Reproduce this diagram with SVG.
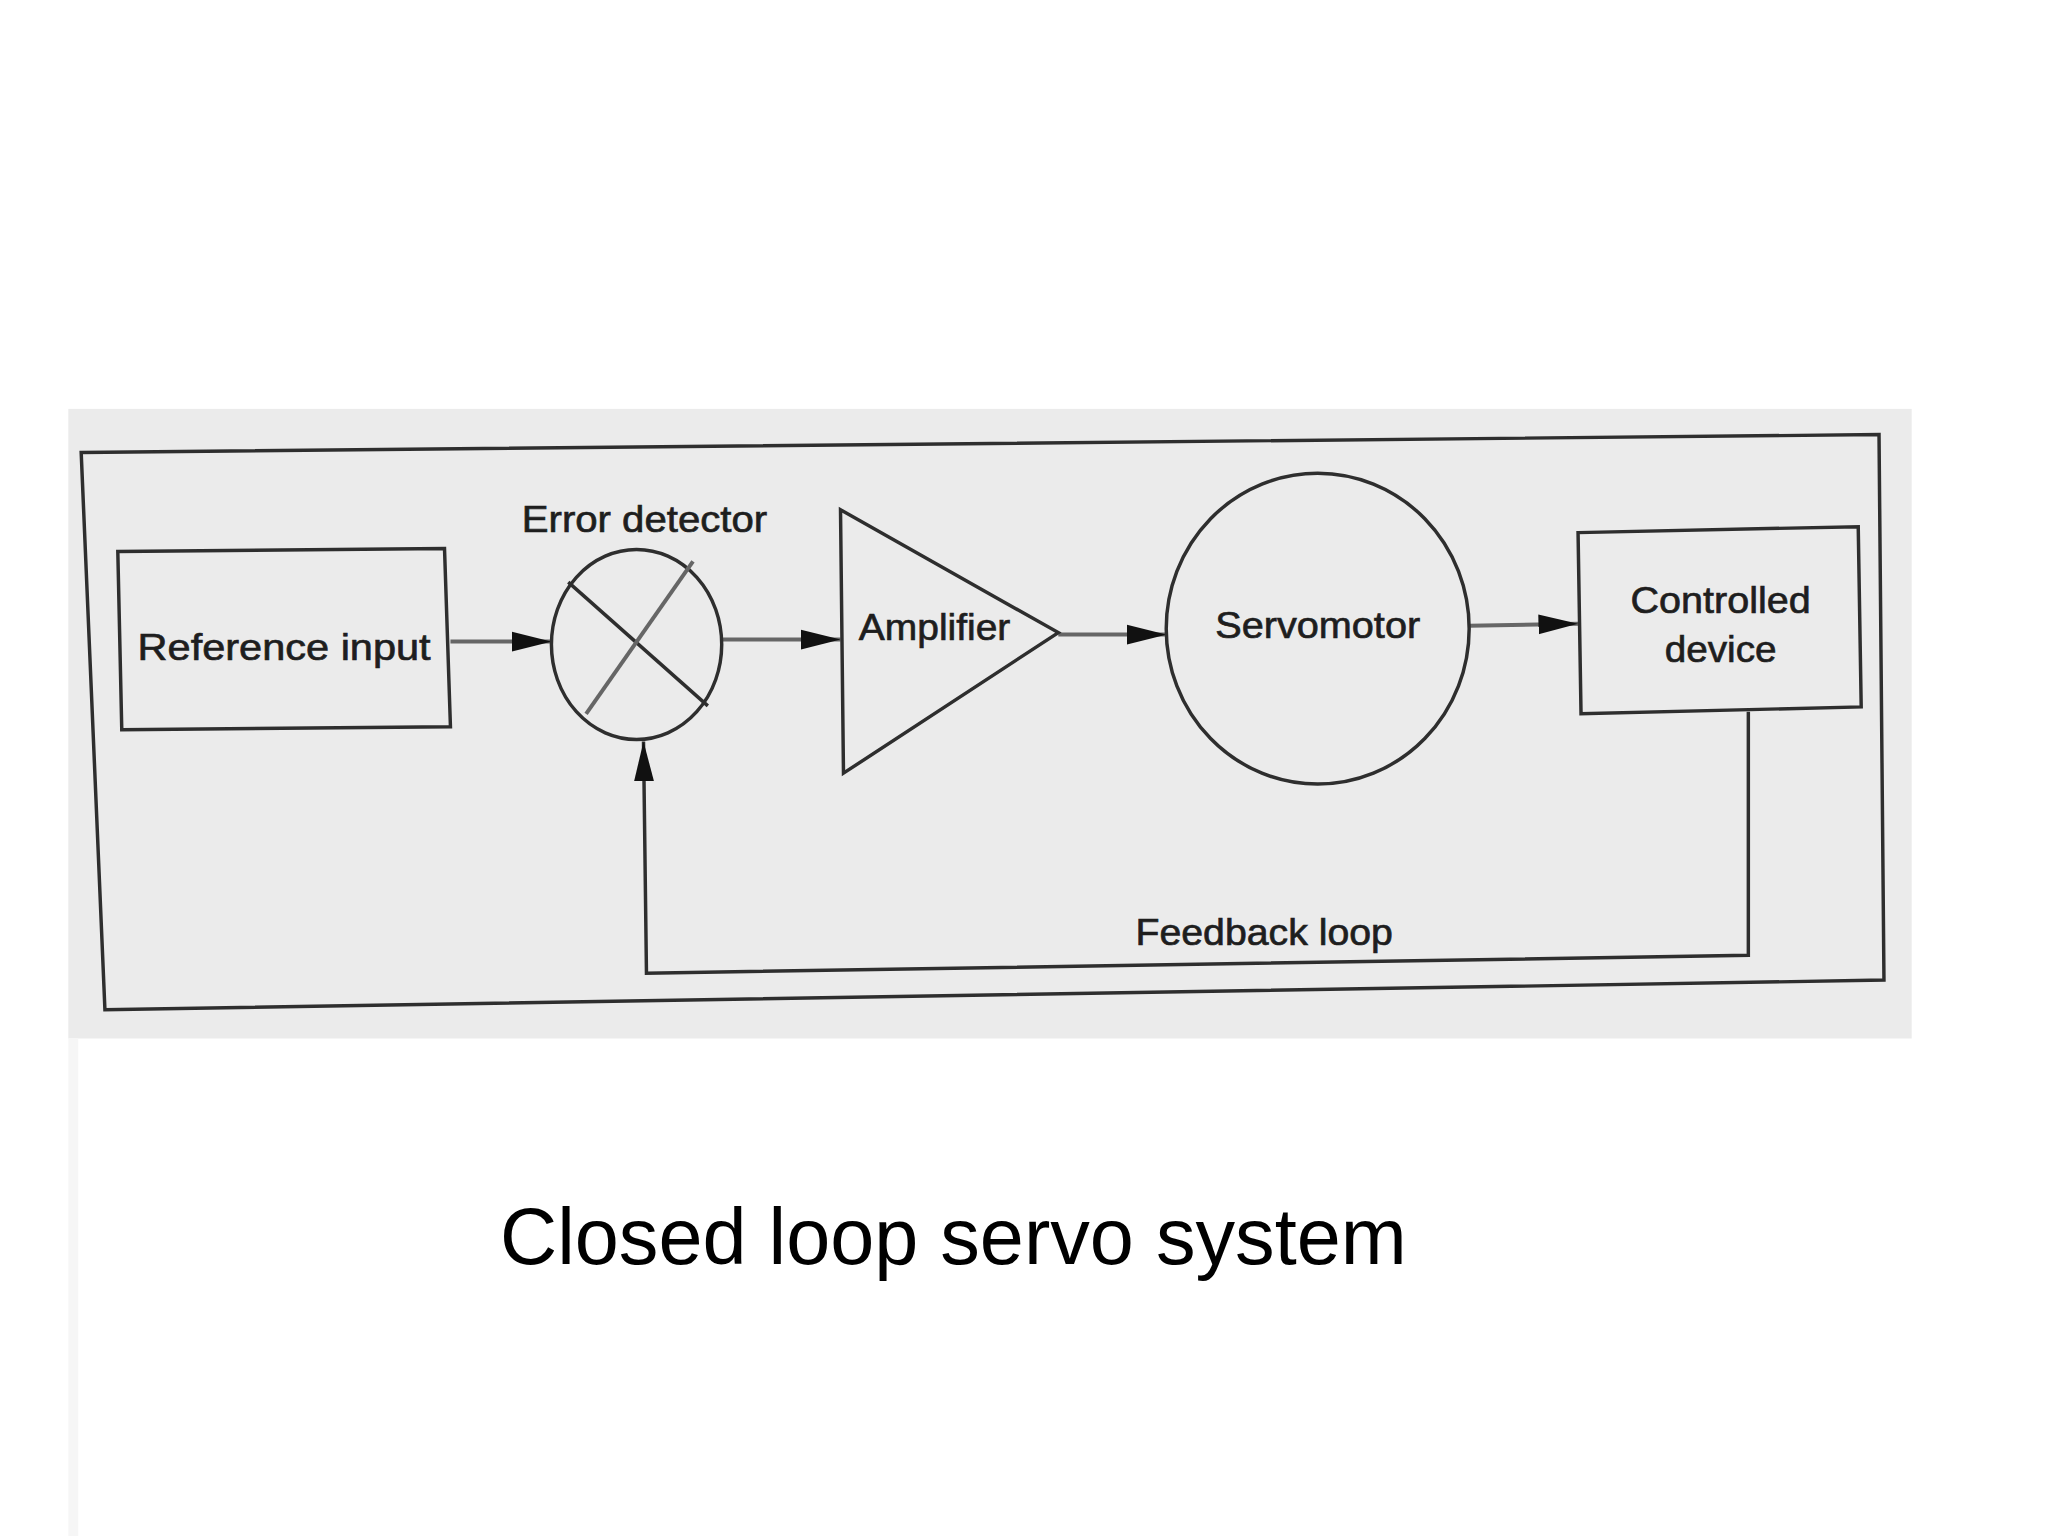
<svg xmlns="http://www.w3.org/2000/svg" width="2048" height="1536" viewBox="0 0 2048 1536">
<defs>
<style>
.ln{fill:none;stroke:#2e2e2e;stroke-width:3.5;stroke-linejoin:miter}
.gl{fill:none;stroke:#666;stroke-width:4}
.lb{font-family:"Liberation Sans",Arial,sans-serif;font-size:38px;fill:#1e1e1e;stroke:#1e1e1e;stroke-width:0.7;text-anchor:middle}
.ttl{font-family:"Liberation Sans",Arial,sans-serif;font-size:80px;fill:#000;text-anchor:middle}
</style>
<marker id="ahb" viewBox="0 0 40 24" refX="40" refY="12" markerWidth="40" markerHeight="24" markerUnits="userSpaceOnUse" orient="auto">
<path d="M0,2 L40,12 L0,22 Z" fill="#111"/>
</marker>
</defs>
<rect x="0" y="0" width="2048" height="1536" fill="#fff"/>
<g transform="scale(0.99)">
<rect x="69" y="413" width="1862" height="636" fill="#ebebeb"/>
<rect x="69" y="1049" width="10" height="505" fill="#f6f6f6"/>
<g id="frame">
<path class="ln" d="M82,457 L1898,439 L1903,990 L106,1020 Z"/>
</g>
<g id="connectors">
<line class="gl" x1="455" y1="648" x2="557" y2="648" marker-end="url(#ahb)"/>
<line class="gl" x1="729" y1="646" x2="849" y2="646" marker-end="url(#ahb)"/>
<line class="gl" x1="1069" y1="641" x2="1178" y2="641" marker-end="url(#ahb)"/>
<line class="gl" x1="1484" y1="632" x2="1594" y2="630" marker-end="url(#ahb)"/>
<polyline class="ln" points="1766,719 1766,965 653,983 650,749" marker-end="url(#ahb)"/>
</g>
<g id="reference-input">
<path class="ln" d="M119,557 L449,554 L455,734 L123,737 Z"/>
<text class="lb" x="287" y="667" textLength="296" lengthAdjust="spacingAndGlyphs">Reference input</text>
</g>
<g id="error-detector">
<ellipse class="ln" cx="643" cy="651" rx="86" ry="96"/>
<line class="ln" x1="574" y1="588" x2="715" y2="713"/>
<line class="gl" x1="700" y1="567" x2="592" y2="721"/>
<text class="lb" x="651" y="537" textLength="248" lengthAdjust="spacingAndGlyphs">Error detector</text>
</g>
<g id="amplifier">
<path class="ln" d="M849,515 L1069,639 L852,781 Z"/>
<text class="lb" x="944" y="646" textLength="153" lengthAdjust="spacingAndGlyphs">Amplifier</text>
</g>
<g id="servomotor">
<ellipse class="ln" cx="1331" cy="635" rx="153" ry="157"/>
<text class="lb" x="1331" y="644" textLength="207" lengthAdjust="spacingAndGlyphs">Servomotor</text>
</g>
<g id="controlled-device">
<path class="ln" d="M1594,538 L1877,532 L1880,714 L1597,721 Z"/>
<text class="lb" x="1738" y="619" textLength="182" lengthAdjust="spacingAndGlyphs">Controlled</text>
<text class="lb" x="1738" y="669" textLength="113" lengthAdjust="spacingAndGlyphs">device</text>
</g>
<g id="feedback-label">
<text class="lb" x="1277" y="955" textLength="260" lengthAdjust="spacingAndGlyphs">Feedback loop</text>
</g>
<g id="title">
<text class="ttl" x="963" y="1277">Closed loop servo system</text>
</g>
</g>
</svg>
